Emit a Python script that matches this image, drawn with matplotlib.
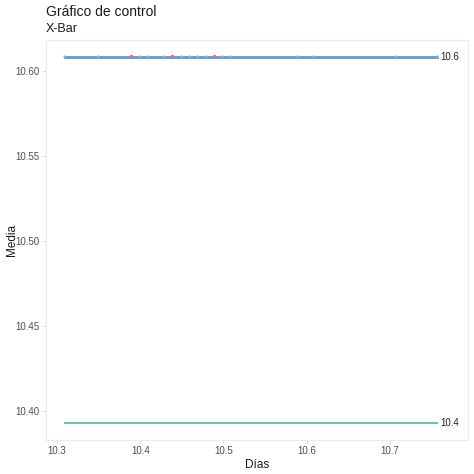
import matplotlib
matplotlib.use("Agg")
from matplotlib import pyplot as plt

# sample points (all near the upper line)
dias = [10.308, 10.349, 10.389, 10.398, 10.408, 10.429, 10.438, 10.449, 10.459,
        10.468, 10.479, 10.489, 10.498, 10.508, 10.588, 10.607, 10.706, 10.756]
media = [10.6085] * len(dias)
fuera = [False, False, True, False, False, False, True, False, False,
         False, False, True, False, False, False, False, False, False]

x_ini, x_fin = 10.31, 10.757
limite_sup = 10.608
limite_inf = 10.393
etiqueta_sup = "10.6"
etiqueta_inf = "10.4"

plt.rcParams["font.family"] = ["Liberation Sans", "DejaVu Sans"]

fig = plt.figure(figsize=(4.74, 4.74), dpi=100)
ax = fig.add_axes([46 / 474, 1 - 440 / 474, 422 / 474, 400 / 474])

ax.scatter([d for d, f in zip(dias, fuera) if not f],
           [m for m, f in zip(media, fuera) if not f],
           s=3, color="#b0b0b0", zorder=3, linewidths=0)
ax.scatter([d for d, f in zip(dias, fuera) if f],
           [m for m, f in zip(media, fuera) if f],
           s=6, color="#f06080", zorder=3, linewidths=0)

ax.plot([x_ini, x_fin], [limite_sup, limite_sup], color="#5b9bd0", lw=2.0, zorder=2)
ax.plot([x_ini, x_fin], [limite_inf, limite_inf], color="#6cc492", lw=1.4, zorder=2)

ax.text(x_fin + 0.004, limite_sup, etiqueta_sup, va="center", ha="left",
        fontsize=7, color="#222222")
ax.text(x_fin + 0.004, limite_inf, etiqueta_inf, va="center", ha="left",
        fontsize=7, color="#222222")

ax.set_xlim(10.2868, 10.7937)
ax.set_ylim(10.3828, 10.618)
ax.set_xticks([10.3, 10.4, 10.5, 10.6, 10.7])
ax.set_xticklabels(["10.3", "10.4", "10.5", "10.6", "10.7"])
ax.set_yticks([10.40, 10.45, 10.50, 10.55, 10.60])
ax.set_yticklabels(["10.40", "10.45", "10.50", "10.55", "10.60"])

for s in ax.spines.values():
    s.set_color("#ebebeb")
    s.set_linewidth(0.8)
ax.tick_params(axis="both", colors="#cccccc", length=2.5, width=0.6,
               labelsize=7, labelcolor="#4d4d4d", pad=2)

ax.set_xlabel("Días", fontsize=8.5, color="#1a1a1a", labelpad=2)

fig.text(12 / 474, 1 - 240 / 474, "Media", fontsize=8.5, color="#1a1a1a",
         rotation=90, va="center", ha="center")
fig.text(46 / 474, 1 - 12 / 474, "Gráfico de control", fontsize=10,
         color="#1a1a1a", va="center", ha="left")
fig.text(46 / 474, 1 - 29 / 474, "X-Bar", fontsize=9,
         color="#1a1a1a", va="center", ha="left")

fig.savefig("out.png", dpi=100)
